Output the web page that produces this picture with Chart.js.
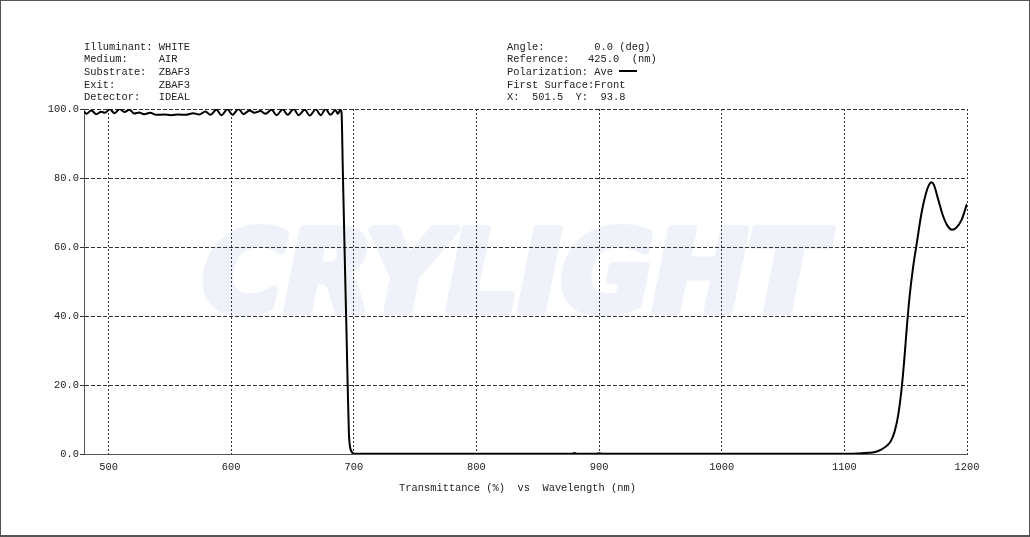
<!DOCTYPE html>
<html>
<head>
<meta charset="utf-8">
<title>Transmittance vs Wavelength</title>
<script src="https://cdn.jsdelivr.net/npm/chart.js@4.4.1/dist/chart.umd.min.js"></script>
<style>
    html, body { margin: 0; padding: 0; background: #fff; }
    #wrap { position: relative; width: 1030px; height: 537px; overflow: hidden; }
    #chart { position: absolute; left: 0; top: 0; }
    .frame {
        position: absolute; left: 0; top: 0; width: 1030px; height: 537px;
        box-sizing: border-box; border: 1px solid #555; border-bottom-width: 2px;
        pointer-events: none;
    }
    .txt {
        position: absolute; margin: 0;
        font-family: 'Liberation Mono', monospace; font-size: 10.4px; line-height: 12.7px;
        color: #222; white-space: pre;
    }
    .pol {
        display: inline-block; width: 18px; height: 0;
        border-top: 2px solid #000; vertical-align: middle; margin-top: -2px;
    }
</style>
</head>
<body>
<div id="wrap">
    <canvas id="chart" width="1030" height="537"></canvas>
    <pre class="txt" style="left:84px; top:40.5px;">Illuminant: WHITE
Medium:     AIR
Substrate:  ZBAF3
Exit:       ZBAF3
Detector:   IDEAL</pre>
    <pre class="txt" style="left:507px; top:40.5px;">Angle:        0.0 (deg)
Reference:   425.0  (nm)
Polarization: Ave <span class="pol"></span>
First Surface:Front
X:  501.5  Y:  93.8</pre>
    <pre class="txt" style="left:399px; top:481.5px;">Transmittance (%)  vs  Wavelength (nm)</pre>
    <div class="frame"></div>
</div>

<script>
// Wavelength (nm) and transmittance (%)
var wavelengths = [
    480, 482, 486, 490, 494, 497, 501, 505, 509, 513, 517, 521,
    525, 529, 534, 539, 545, 551, 557, 563, 569, 574, 579,
    583, 588, 592, 597, 601, 606, 610, 615, 619, 624, 628, 633, 637, 642, 646,
    651, 655, 660, 664, 669, 673, 677, 681, 685, 687, 689,
    690, 691, 692, 693, 694, 695, 696, 697, 698, 699.5, 702,
    750, 800, 850, 878, 880, 882, 898, 900, 903, 950, 1000, 1050, 1100, 1110, 1120,
    1125, 1130, 1135, 1138, 1141, 1144, 1147, 1149, 1151, 1153, 1156, 1159, 1163, 1166.5,
    1169, 1171, 1173, 1176.5, 1180, 1184, 1188, 1191, 1195.5, 1200
];
var transmittance = [
    99.3, 98.6, 99.6, 98.5, 99.2, 98.9, 99.9, 98.8, 100.0, 99.1, 99.8, 98.7,
    99.0, 98.5, 98.9, 98.3, 98.4, 98.2, 98.4, 98.3, 98.8, 98.4, 99.3,
    98.3, 99.8, 98.2, 99.9, 98.3, 100.0, 98.5, 99.6, 98.9, 99.4, 98.6, 99.8, 98.2, 99.9, 98.3,
    100.0, 98.2, 99.8, 98.1, 99.9, 98.2, 100.0, 98.3, 99.7, 98.6, 99.8,
    99.0, 83, 67, 51, 36, 20, 6, 2, 0.8, 0.2, 0.05,
    0.05, 0.05, 0.05, 0.05, 0.3, 0.05, 0.05, 0.25, 0.05, 0.05, 0.05, 0.05, 0.05, 0.15, 0.35,
    0.6, 1.3, 2.5, 3.8, 6.5, 11.5, 20, 28, 37, 45, 54, 61, 70, 75.5,
    78, 78.8, 78, 73.8, 69.5, 66.2, 65, 65.5, 67.8, 72.5
];
var xTicks = [500, 600, 700, 800, 900, 1000, 1100, 1200];
var yTicks = [0, 20, 40, 60, 80, 100];
var WATERMARK = 'CRYLIGHT';

(function() {
    'use strict';

    var monoFont = { family: "'Liberation Mono', monospace", size: 10.4 };

    // faint heavy logo behind the grid
    var watermark = {
        id: 'watermark',
        beforeDraw: function(chart) {
            var ctx = chart.ctx;
            ctx.save();
            ctx.font = 'bold 112px "DejaVu Sans"';
            var w = ctx.measureText(WATERMARK).width;
            var skew = 0.2, cap = 90;
            var sx = (640 - skew * cap) / w;
            ctx.translate(194, 311);
            ctx.transform(1, 0, -skew, 1, 0, 0);
            ctx.scale(sx, 1);
            ctx.fillStyle = '#eff2f8';
            ctx.strokeStyle = '#eff2f8';
            ctx.lineWidth = 8;
            ctx.lineJoin = 'round';
            ctx.textBaseline = 'alphabetic';
            ctx.fillText(WATERMARK, 0, 0);
            ctx.strokeText(WATERMARK, 0, 0);
            ctx.restore();
        }
    };

    var points = [];
    for (var i = 0; i < wavelengths.length; i++) {
        points.push({ x: wavelengths[i], y: transmittance[i] });
    }

    var ctx = document.getElementById('chart').getContext('2d');
    new Chart(ctx, {
        type: 'line',
        data: {
            datasets: [{
                data: points,
                borderColor: '#000',
                borderWidth: 2,
                pointRadius: 0,
                fill: false,
                cubicInterpolationMode: 'monotone'
            }]
        },
        options: {
            responsive: false,
            animation: false,
            layout: { padding: { left: 0, right: 63, top: 109, bottom: 0 } },
            plugins: {
                legend: { display: false },
                tooltip: { enabled: false }
            },
            scales: {
                x: {
                    type: 'linear',
                    min: 480,
                    max: 1200,
                    afterBuildTicks: function(scale) {
                        scale.ticks = xTicks.map(function(v) { return { value: v }; });
                    },
                    afterFit: function(scale) { scale.height = 83; },
                    grid: { color: '#333', lineWidth: 1, drawTicks: false },
                    // in v4 the border dash is what dashes the grid lines
                    border: { color: '#555', width: 1, dash: [2, 2] },
                    ticks: {
                        font: monoFont, color: '#222', padding: 7,
                        maxRotation: 0, autoSkip: false,
                        callback: function(v) { return String(v); }
                    }
                },
                y: {
                    type: 'linear',
                    min: 0,
                    max: 100,
                    afterBuildTicks: function(scale) {
                        scale.ticks = yTicks.map(function(v) { return { value: v }; });
                    },
                    afterFit: function(scale) { scale.width = 84; },
                    grid: {
                        color: '#333', lineWidth: 1,
                        tickLength: 4, tickBorderDash: [4, 2]
                    },
                    border: { color: '#555', width: 1, dash: [4, 2] },
                    ticks: {
                        font: monoFont, color: '#222', padding: 1,
                        callback: function(v) { return Number(v).toFixed(1); }
                    }
                }
            }
        },
        plugins: [watermark]
    });
})();
</script>
</body>
</html>
